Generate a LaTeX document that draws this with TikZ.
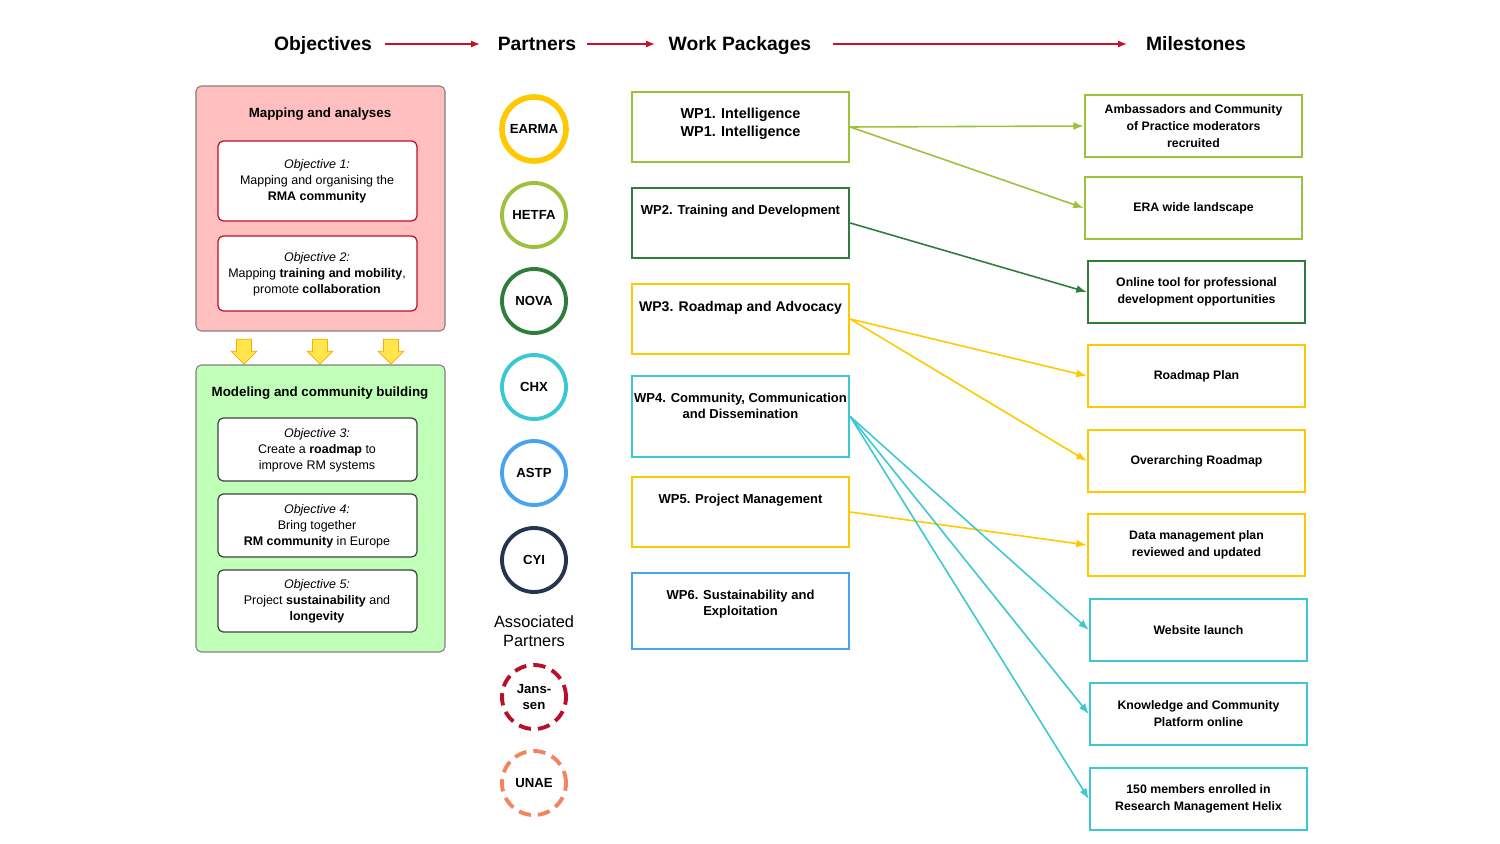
\documentclass[tikz,border=0pt]{standalone}
\usepackage{fontspec}
\setmainfont{Liberation Sans}
\usetikzlibrary{arrows.meta,shapes.arrows}
\definecolor{cyel}{HTML}{FFC800}
\definecolor{clg}{HTML}{9DC13B}
\definecolor{cdg}{HTML}{2E7D3A}
\definecolor{ccy}{HTML}{3CC8D2}
\definecolor{cbl}{HTML}{4AA3F0}
\definecolor{cnv}{HTML}{243552}
\definecolor{cjr}{HTML}{B8102A}
\definecolor{cor}{HTML}{F4845F}
\definecolor{cpink}{HTML}{FFBFBF}
\definecolor{cmint}{HTML}{C0FFB8}
\definecolor{carr}{HTML}{C8102E}
\begin{document}
\begin{tikzpicture}[x=0.02cm,y=-0.02cm,
 head/.style={font=\fontsize{11}{13}\selectfont\bfseries,anchor=base},
 redarr/.style={draw=carr,line width=0.9pt,-{Latex[length=5pt,width=4pt]}},
 panel/.style={draw=gray,rounded corners=3pt,line width=0.6pt},
 obj/.style={draw=#1,fill=white,rounded corners=3pt,line width=0.7pt,align=center,font=\fontsize{7.1}{9}\selectfont},
 partner/.style={circle,draw=#1,line width=2.2pt,minimum size=1.28cm,font=\fontsize{7.5}{9}\selectfont\bfseries,align=center,inner sep=0pt},
 wp/.style={draw=#1,line width=1.4pt},
 ms/.style={draw=#1,line width=1.4pt,align=center,font=\fontsize{7}{9.6}\selectfont\bfseries},
 wpt/.style={font=\fontsize{7.4}{9}\selectfont\bfseries,align=center,anchor=north},
 con/.style={draw=#1,line width=0.9pt,-{Latex[length=6pt,width=4.5pt]}},
 yarr/.style={single arrow,shape border rotate=270,draw=orange!70!yellow,fill=yellow!80!orange!70,minimum width=0.52cm,single arrow head extend=0.05cm,minimum height=0.5cm,inner sep=0.06cm}]
\useasboundingbox (0,0) rectangle (1500,844);
% headings
\node[head] (hO) at (323,51) {Objectives};
\node[head] (hP) at (537,51) {Partners};
\node[head] (hW) at (740,51) {Work Packages};
\node[head] (hM) at (1196,51) {Milestones};
\coordinate (a1) at (385,44); \coordinate (a2) at (480,44);
\coordinate (a3) at (587,44); \coordinate (a4) at (655,44);
\coordinate (a5) at (833,44); \coordinate (a6) at (1127,44);
\draw[redarr] (a1) -- (a2); \draw[redarr] (a3) -- (a4); \draw[redarr] (a5) -- (a6);
% objectives
\draw[panel,fill=cpink] (196,86) rectangle (445,331);
\node[font=\fontsize{7.6}{10}\selectfont\bfseries] (t1) at (320,114) {Mapping and analyses};
\draw[obj=cjr] (218,141) rectangle (417,221);
\node[obj=white,draw=none,fill=none] (o1) at (317,181) {\textit{Objective 1:}\\Mapping and organising the\\\textbf{RMA community}};
\draw[obj=cjr] (218,236) rectangle (417,311);
\node[obj=white,draw=none,fill=none] (o2) at (317,274) {\textit{Objective 2:}\\Mapping \textbf{training and mobility},\\promote \textbf{collaboration}};
\node[yarr] (y1) at (244,348) {}; \node[yarr] (y2) at (320,348) {}; \node[yarr] (y3) at (391,348) {};
\draw[panel,fill=cmint] (196,365) rectangle (445,652);
\node[font=\fontsize{7.6}{10}\selectfont\bfseries] (t2) at (320,393) {Modeling and community building};
\draw[obj=darkgray] (218,418) rectangle (417,481);
\node[obj=white,draw=none,fill=none] (o3) at (317,450) {\textit{Objective 3:}\\Create a \textbf{roadmap} to\\improve RM systems};
\draw[obj=darkgray] (218,494) rectangle (417,557);
\node[obj=white,draw=none,fill=none] (o4) at (317,526) {\textit{Objective 4:}\\Bring together\\\textbf{RM community} in Europe};
\draw[obj=darkgray] (218,570) rectangle (417,632);
\node[obj=white,draw=none,fill=none] (o5) at (317,601) {\textit{Objective 5:}\\Project \textbf{sustainability} and\\\textbf{longevity}};
% partners
\node[partner=cyel,line width=3.2pt] (p1) at (534,129) {EARMA};
\node[partner=clg] (p2) at (534,215) {HETFA};
\node[partner=cdg] (p3) at (534,301) {NOVA};
\node[partner=ccy] (p4) at (534,387) {CHX};
\node[partner=cbl] (p5) at (534,473) {ASTP};
\node[partner=cnv] (p6) at (534,560) {CYI};
\node[align=center,font=\fontsize{9.3}{11}\selectfont] (ap) at (534,631) {Associated\\Partners};
\node[partner=cjr,dashed,dash pattern=on 7pt off 4pt] (p7) at (534,697) {Jans-\\sen};
\node[partner=cor,dashed,dash pattern=on 7pt off 4pt] (p8) at (534,783) {UNAE};
% work packages
\node[wp=clg,minimum width=4.34cm,minimum height=1.4cm] (w1) at (740.5,127) {};
\node[wpt,font=\fontsize{8.2}{10}\selectfont\bfseries] at (740.5,102) {WP1. Intelligence\\WP1. Intelligence};
\node[wp=cdg,minimum width=4.34cm,minimum height=1.4cm] (w2) at (740.5,223) {};
\node[wpt] at (740.5,199) {WP2. Training and Development};
\node[wp=cyel,minimum width=4.34cm,minimum height=1.4cm] (w3) at (740.5,319) {};
\node[wpt,font=\fontsize{8}{10}\selectfont\bfseries] at (740.5,295) {WP3. Roadmap and Advocacy};
\node[wp=ccy,minimum width=4.34cm,minimum height=1.62cm] (w4) at (740.5,416.5) {};
\node[wpt] at (740.5,387) {WP4. Community, Communication\\and Dissemination};
\node[wp=cyel,minimum width=4.34cm,minimum height=1.4cm] (w5) at (740.5,512) {};
\node[wpt] at (740.5,488) {WP5. Project Management};
\node[wp=cbl,minimum width=4.34cm,minimum height=1.52cm] (w6) at (740.5,611) {};
\node[wpt] at (740.5,584) {WP6. Sustainability and\\Exploitation};
% milestones
\node[ms=clg,minimum width=4.34cm,minimum height=1.24cm] (m1) at (1193.5,126) {Ambassadors and Community\\of Practice moderators\\recruited};
\node[ms=clg,minimum width=4.34cm,minimum height=1.24cm] (m2) at (1193.5,208) {ERA wide landscape};
\node[ms=cdg,minimum width=4.34cm,minimum height=1.24cm] (m3) at (1196.5,292) {Online tool for professional\\development opportunities};
\node[ms=cyel,minimum width=4.34cm,minimum height=1.24cm] (m4) at (1196.5,376) {Roadmap Plan};
\node[ms=cyel,minimum width=4.34cm,minimum height=1.24cm] (m5) at (1196.5,461) {Overarching Roadmap};
\node[ms=cyel,minimum width=4.34cm,minimum height=1.24cm] (m6) at (1196.5,545) {Data management plan\\reviewed and updated};
\node[ms=ccy,minimum width=4.34cm,minimum height=1.24cm] (m7) at (1198.5,630) {Website launch};
\node[ms=ccy,minimum width=4.34cm,minimum height=1.24cm] (m8) at (1198.5,714) {Knowledge and Community\\Platform online};
\node[ms=ccy,minimum width=4.34cm,minimum height=1.24cm] (m9) at (1198.5,799) {150 members enrolled in\\Research Management Helix};
% connectors
\draw[con=clg] (w1.east) -- (m1.west);
\draw[con=clg] (w1.east) -- (m2.west);
\draw[con=cdg] (w2.east) -- (m3.west);
\draw[con=cyel] (w3.east) -- (m4.west);
\draw[con=cyel] (w3.east) -- (m5.west);
\draw[con=cyel] (w5.east) -- (m6.west);
\draw[con=ccy] (w4.east) -- (m7.west);
\draw[con=ccy] (w4.east) -- (m8.west);
\draw[con=ccy] (w4.east) -- (m9.west);
\end{tikzpicture}
\end{document}
